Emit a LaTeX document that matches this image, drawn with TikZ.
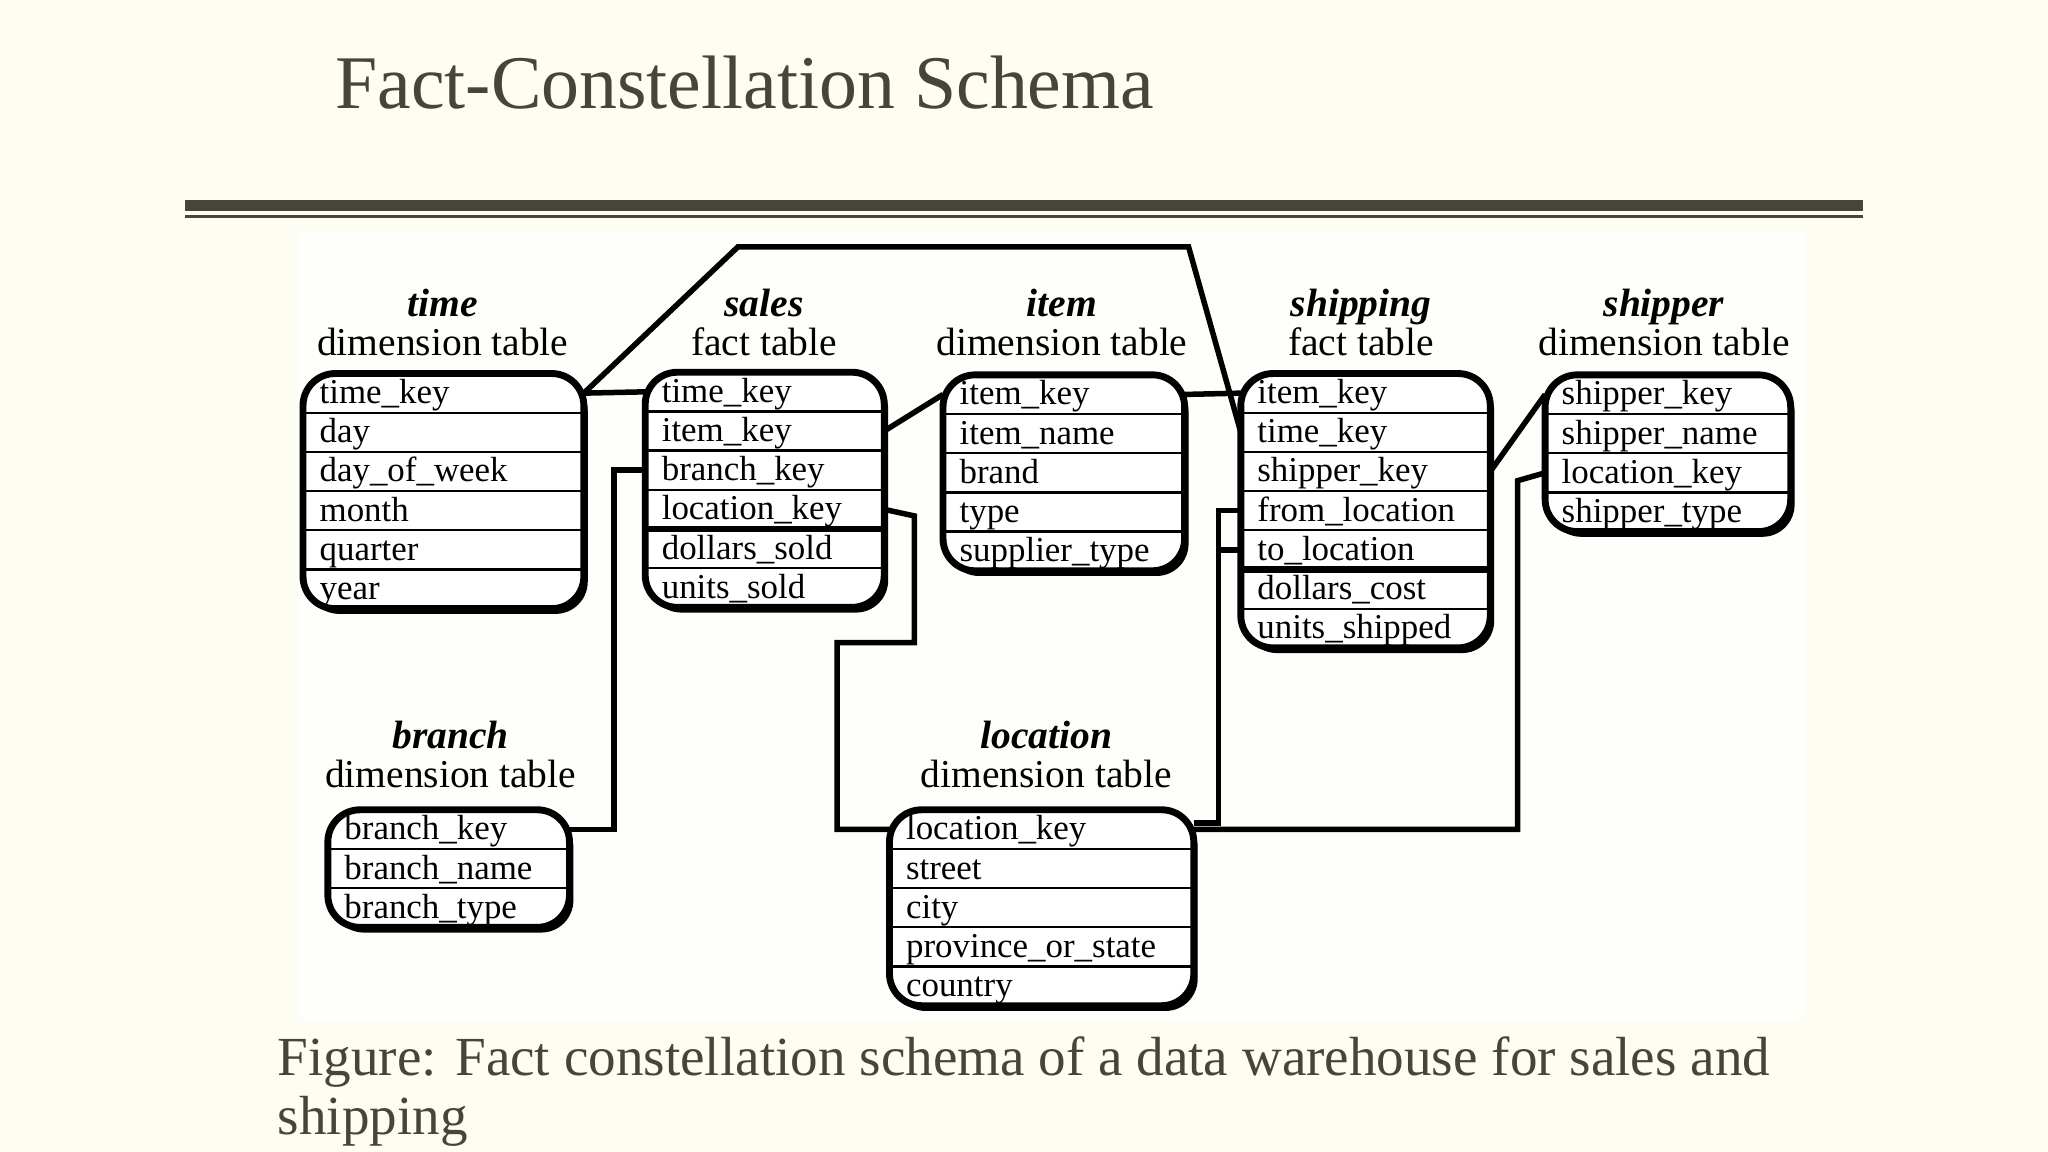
\documentclass[tikz,border=0pt]{standalone}
\usepackage{fontspec}
\setmainfont{Liberation Serif}
\definecolor{bg}{RGB}{253,253,243}
\definecolor{ink}{RGB}{72,68,56}
\newcommand\rowf{\fontsize{7.6}{8}\selectfont}
\newcommand\hdf{\fontsize{8.6}{9}\selectfont}
\newcommand\tbl[7]{%
 \pgfmathsetmacro\bot{#4+30*#5}%
 \fill[rounded corners=7] (#2+3,#4+4) rectangle (#3+3,\bot+4);
 \draw[line width=1.5pt, fill=white, rounded corners=7] (#2,#4) rectangle (#3,\bot);
 \foreach \t [count=\k] in {#7} {
   \pgfmathsetmacro\yc{#4+30*\k-15}
   \node[anchor=base west,font=\rowf,inner sep=0] (#1-\k) at (#2+12,\yc+8) {\t};
   \coordinate (#1-\k-w) at (#2,\yc);
   \coordinate (#1-\k-e) at (#3,\yc);
 }
 \pgfmathtruncatemacro\nm{#5-1}%
 \foreach \k in {1,...,\nm} {
   \pgfmathsetmacro\lw{ifthenelse(\k==#6,1.5,0.5)}
   \draw[line width=\lw pt] (#2,#4+30*\k) -- (#3,#4+30*\k);
 }
}
\newcommand\hdr[4]{%
 \node[font=\hdf\bfseries\itshape,anchor=base,inner sep=0] (#1a) at (#2,#3+8) {#4};
}
\newcommand\hdl[4]{%
 \node[font=\hdf,anchor=base,inner sep=0] (#1b) at (#2,#3+8) {#4};
}
\begin{document}
\begin{tikzpicture}[x=0.01cm,y=-0.01cm]
\fill[bg] (0,0) rectangle (1568,882);
\useasboundingbox (0,0) rectangle (1568,882);
\fill[white!60!bg] (228,178) rectangle (1383,782);
\node[anchor=west,text=ink,font=\fontsize{16.5}{18}\selectfont,inner sep=0] (title) at (256,63) {Fact-Constellation Schema};
\draw[ink,line width=2.4pt] (142,157) -- (1426,157);
\draw[ink,line width=0.7pt] (142,166) -- (1426,166);
\node[anchor=north west,text=ink,font=\fontsize{12}{12.8}\selectfont,inner sep=0,align=left] (cap) at (212,793) {Figure: Fact constellation schema of a data warehouse for sales and\\shipping};
% headers
\hdr{h1}{339}{234}{time}\hdl{h1}{339}{264}{dimension table}
\hdr{h2}{585}{234}{sales}\hdl{h2}{585}{264}{fact table}
\hdr{h3}{813}{234}{item}\hdl{h3}{813}{264}{dimension table}
\hdr{h4}{1042}{234}{shipping}\hdl{h4}{1042}{264}{fact table}
\hdr{h5}{1274}{234}{shipper}\hdl{h5}{1274}{264}{dimension table}
\hdr{h6}{345}{565}{branch}\hdl{h6}{345}{595}{dimension table}
\hdr{h7}{801}{565}{location}\hdl{h7}{801}{595}{dimension table}
\tbl{tm}{232}{447}{286}{6}{0}{time\_key,day,day\_of\_week,month,quarter,year}
\tbl{sa}{494}{677}{285}{6}{4}{time\_key,item\_key,branch\_key,location\_key,dollars\_sold,units\_sold}
\tbl{it}{722}{907}{287}{5}{0}{item\_key,item\_name,brand,type,supplier\_type}
\tbl{sh}{950}{1141}{286}{7}{5}{item\_key,time\_key,shipper\_key,from\_location,to\_location,dollars\_cost,units\_shipped}
\tbl{sp}{1183}{1371}{287}{4}{0}{shipper\_key,shipper\_name,location\_key,shipper\_type}
\tbl{br}{251}{436}{620}{3}{0}{branch\_key,branch\_name,branch\_type}
\tbl{lo}{681}{914}{620}{5}{0}{location\_key,street,city,province\_or\_state,country}
\tikzset{cn/.style={line width=1.2pt}}
\draw[cn] (tm-1-e) -- (sa-1-w);
\draw[cn] (tm-1-e) -- (565,189) -- (910,189) -- (sh-2-w);
\draw[cn] (sa-2-e) -- (it-1-w);
\draw[cn] (it-1-e) -- (sh-1-w);
\draw[cn] (sa-3-w) -- (470,360) -- (470,635) -- (br-1-e);
\draw[cn] (sa-4-e) -- (700,395) -- (700,492) -- (641,492) -- (641,635) -- (lo-1-w);
\draw[cn] (sh-4-w) -- (933,391) -- (933,630) -- (914,630);
\draw[cn] (sh-5-w) -- (933,421);
\draw[cn] (914,635) -- (1162,635) -- (1162,368) -- (sp-3-w);
\draw[cn] (sh-3-e) -- (sp-1-w);
\end{tikzpicture}
\end{document}
